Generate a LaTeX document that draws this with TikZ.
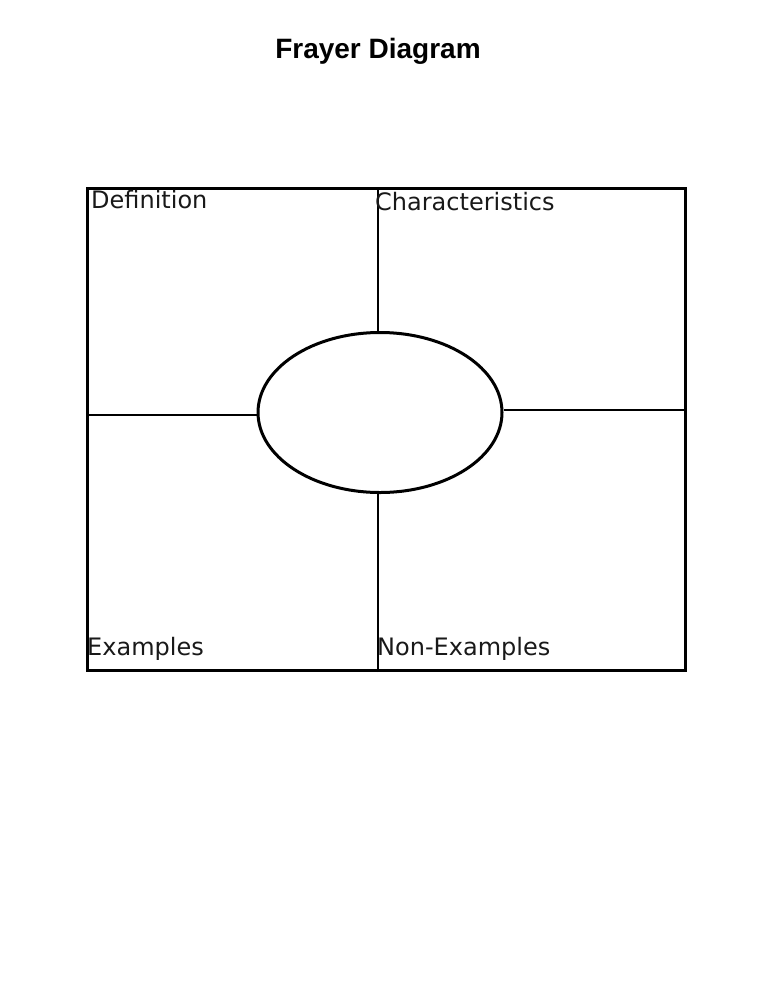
\documentclass[tikz,border=0pt]{standalone}
\usepackage{fontspec}
\setmainfont{DejaVu Sans}
\newfontfamily\titlefont{Liberation Sans}
\usetikzlibrary{shapes.geometric}
\begin{document}
\begin{tikzpicture}[x=1pt,y=-1pt,
  lbl/.style={anchor=base west,inner sep=0pt,font=\fontsize{24}{28}\selectfont,text=black!90},
  frame/.style={line width=3pt},
  thin/.style={line width=2.5pt}]
\useasboundingbox[fill=white] (0,0) rectangle (768,994);
\node[font=\titlefont\bfseries\fontsize{28}{32}\selectfont,anchor=base] (title) at (378,58) {Frayer Diagram};
\draw[frame] (87,188) rectangle (685,670);
\node[draw,ellipse,line width=3pt,minimum width=244pt,minimum height=160pt,inner sep=0pt] (c) at (380,412.5) {};
\coordinate (t) at (378,188);
\coordinate (b) at (378,672);
\coordinate (l) at (87,415);
\coordinate (r) at (685,410);
\draw[thin] (t) -- (t|-c.north);
\draw[thin] (b) -- (b|-c.south);
\draw[thin] (l) -- (c.west|-l);
\draw[thin] (r) -- (c.east|-r);
\node[lbl] (d) at (91,208) {Definition};
\node[lbl] (ch) at (375,210) {Characteristics};
\node[lbl] (e) at (87,655) {Examples};
\node[lbl] (ne) at (377,655) {Non-Examples};
\end{tikzpicture}
\end{document}
